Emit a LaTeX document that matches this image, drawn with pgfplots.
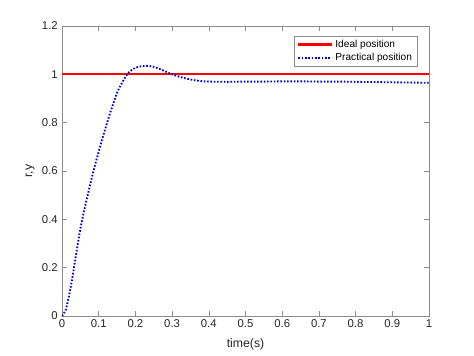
\documentclass[border=0pt]{standalone}
\usepackage{pgfplots}
\pgfplotsset{compat=1.18}
\usepackage{fontspec}
\setmainfont{Liberation Sans}
\begin{document}
\begin{tikzpicture}[x=0.75pt,y=0.75pt]
\path (-62,-39) rectangle (412,316);
\begin{axis}[
  at={(0,0)}, anchor=south west,
  scale only axis, width=275.25pt, height=217.5pt,
  xmin=0, xmax=1, ymin=0, ymax=1.2,
  xtick={0,0.1,...,1}, ytick={0,0.2,...,1.2},
  xticklabels={0,0.1,0.2,0.3,0.4,0.5,0.6,0.7,0.8,0.9,1},
  yticklabels={0,0.2,0.4,0.6,0.8,1,1.2},
  tick align=inside, tick pos=both,
  major tick length=4pt,
  axis line style={draw=black!45},
  every tick/.style={draw=black!45},
  tick label style={font=\fontsize{8.5}{10}\selectfont, text=black!85},
  xticklabel style={inner sep=1pt, yshift=-1.5pt},
  yticklabel style={inner sep=1pt, xshift=-2pt},
  label style={font=\fontsize{9.2}{11}\selectfont, text=black!85},
  xlabel={time(s)}, ylabel={r,y},
  xlabel style={at={(axis description cs:0.5,-0.097)}, anchor=center},
  ylabel style={at={(axis description cs:-0.087,0.5)}, anchor=center},
  legend style={at={(axis description cs:0.969,0.967)}, anchor=north east,
    draw=black!45, font=\fontsize{7.6}{9}\selectfont, inner xsep=2pt, inner ysep=1pt,
    row sep=-1pt, cells={anchor=west}},
  legend image code/.code={\draw[#1] (0pt,0pt) -- (25pt,0pt);},
]
\addplot[red, line width=1.6pt] coordinates {(0,1) (1,1)};
\addlegendentry{Ideal position}
\addplot[blue!85!black, line width=1.4pt, dash pattern=on 1.2pt off 1.3pt, smooth] coordinates {
(0,0) (0.01,0.025) (0.02,0.09) (0.03,0.175) (0.04,0.27) (0.05,0.36)
(0.06,0.435) (0.07,0.50) (0.08,0.565) (0.09,0.625) (0.10,0.68) (0.11,0.735)
(0.12,0.785) (0.13,0.835) (0.14,0.88) (0.15,0.924) (0.16,0.955) (0.17,0.982)
(0.18,1.005) (0.19,1.018) (0.20,1.027) (0.21,1.032) (0.22,1.034) (0.23,1.035)
(0.24,1.034) (0.25,1.031) (0.26,1.026) (0.27,1.020) (0.28,1.013) (0.29,1.006)
(0.30,1.000) (0.32,0.990) (0.34,0.982) (0.36,0.976) (0.38,0.972) (0.40,0.970)
(0.45,0.969) (0.50,0.970) (0.55,0.970) (0.60,0.971) (0.65,0.971) (0.70,0.970)
(0.75,0.970) (0.80,0.969) (0.85,0.968) (0.90,0.967) (0.95,0.966) (1.00,0.965)};
\addlegendentry{Practical position}
\end{axis}
\end{tikzpicture}
\end{document}
